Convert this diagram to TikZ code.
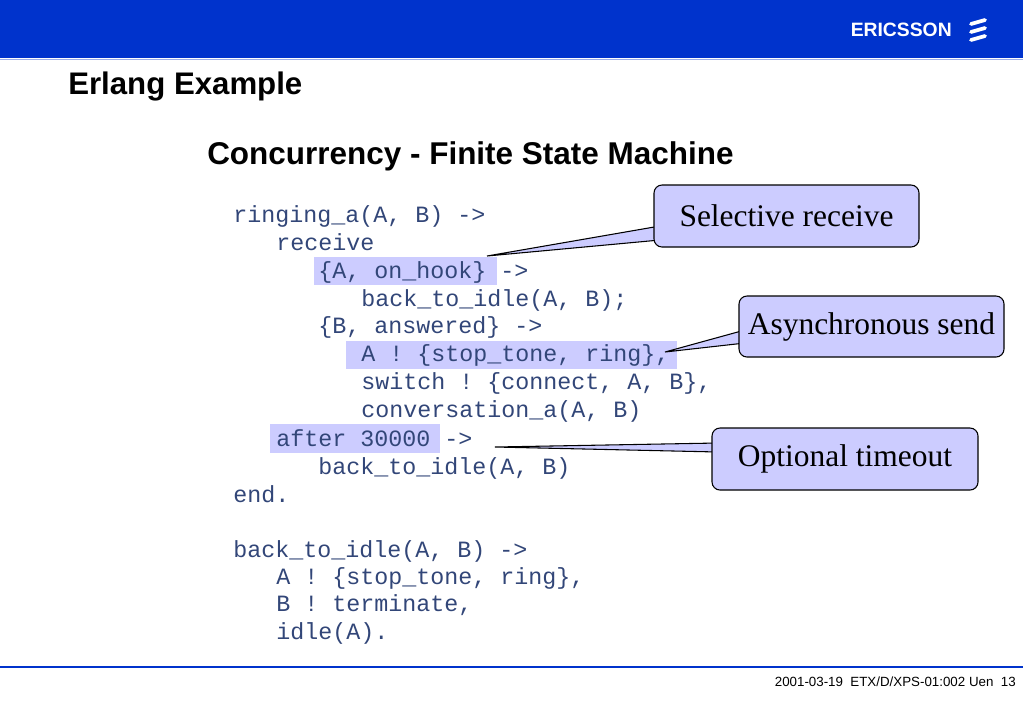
\documentclass[tikz,border=0pt]{standalone}
\usepackage{fontspec}
\setmainfont{Liberation Serif}
\setsansfont{Liberation Sans}
\setmonofont{Liberation Mono}
\definecolor{hdrblue}{RGB}{0,51,204}
\definecolor{codecol}{RGB}{50,70,120}
\definecolor{hilite}{RGB}{204,204,255}
\definecolor{callfill}{RGB}{204,204,255}
\tikzset{
  codeline/.style={anchor=base west,inner sep=0pt,font=\ttfamily\fontsize{17.5}{20}\selectfont,text=codecol},
  callout/.style={draw=black,fill=callfill,rounded corners=6pt,line width=0.8pt,font=\fontsize{23.6}{28}\selectfont,inner sep=0pt},
  wedge/.style={draw=black,fill=callfill,line width=0.8pt,line join=miter}
}
\begin{document}
\begin{tikzpicture}[x=0.75pt,y=0.75pt,yscale=-1,xscale=1]
\useasboundingbox (0,0) rectangle (1023,708);

% Header bar
\fill[hdrblue] (0,0) rectangle (1023,58);
\draw[hdrblue!40,line width=1pt] (0,59.5) -- (1023,59.5);
\node (logo) [anchor=east,inner sep=0pt,text=white,font=\sffamily\bfseries\fontsize{14.5}{16}\selectfont] at (952,30) {ERICSSON};
\foreach \yy in {22,30,38}
  \draw[white,line width=2.8pt,line cap=round] (971,\yy+2) -- (985,\yy-2);

% Titles
\node (title) [anchor=base west,inner sep=0pt,font=\sffamily\bfseries\fontsize{23.4}{26}\selectfont] at (68,94) {Erlang Example};
\node (subtitle) [anchor=base west,inner sep=0pt,font=\sffamily\bfseries\fontsize{23.6}{27}\selectfont] at (207,164) {Concurrency - Finite State Machine};

% Highlights
\fill[hilite] (314,257) rectangle (497,285);
\fill[hilite] (346,341) rectangle (677,369);
\fill[hilite] (270,424) rectangle (440,453);
\coordinate (hook) at (487,256);
\coordinate (send) at (665,352);
\coordinate (tmo) at (495,447);

% Code
\node (l1) [codeline] at (233,222) {ringing\_a(A, B) ->};
\node (l2) [codeline] at (276,250) {receive};
\node (l3) [codeline] at (318,278) {\{A, on\_hook\} ->};
\node (l4) [codeline] at (361,306) {back\_to\_idle(A, B);};
\node (l5) [codeline] at (318,333) {\{B, answered\} ->};
\node (l6) [codeline] at (361,361) {A ! \{stop\_tone, ring\},};
\node (l7) [codeline] at (361,389) {switch ! \{connect, A, B\},};
\node (l8) [codeline] at (361,417) {conversation\_a(A, B)};
\node (l9) [codeline] at (276,446) {after 30000 ->};
\node (l10) [codeline] at (318,474) {back\_to\_idle(A, B)};
\node (l11) [codeline] at (233,502) {end.};
\node (l12) [codeline] at (233,557) {back\_to\_idle(A, B) ->};
\node (l13) [codeline] at (276,584) {A ! \{stop\_tone, ring\},};
\node (l14) [codeline] at (276,611) {B ! terminate,};
\node (l15) [codeline] at (276,639) {idle(A).};

% Callouts
\draw[wedge] (660,226) -- (hook) -- (660,240);
\node (selrec) [callout,minimum width=265pt*0.75,minimum height=62pt*0.75] at (786.5,216) {Selective receive};
\draw[wedge] (745,330) -- (send) -- (745,343);
\node (async) [callout,minimum width=265pt*0.75,minimum height=61pt*0.75] at (871.5,326.5) {Asynchronous send};
\draw[wedge] (718,443) -- (tmo) -- (718,452);
\node (opttmo) [callout,minimum width=266pt*0.75,minimum height=62pt*0.75] at (845,459) {Optional timeout};

% Footer
\draw[hdrblue,line width=1.5pt] (0,667) -- (1023,667);
\node (footer) [anchor=base east,inner sep=0pt,font=\sffamily\fontsize{10}{12}\selectfont] at (1016,686) {2001-03-19\ \ ETX/D/XPS-01:002 Uen\ \ 13};
\end{tikzpicture}
\end{document}
